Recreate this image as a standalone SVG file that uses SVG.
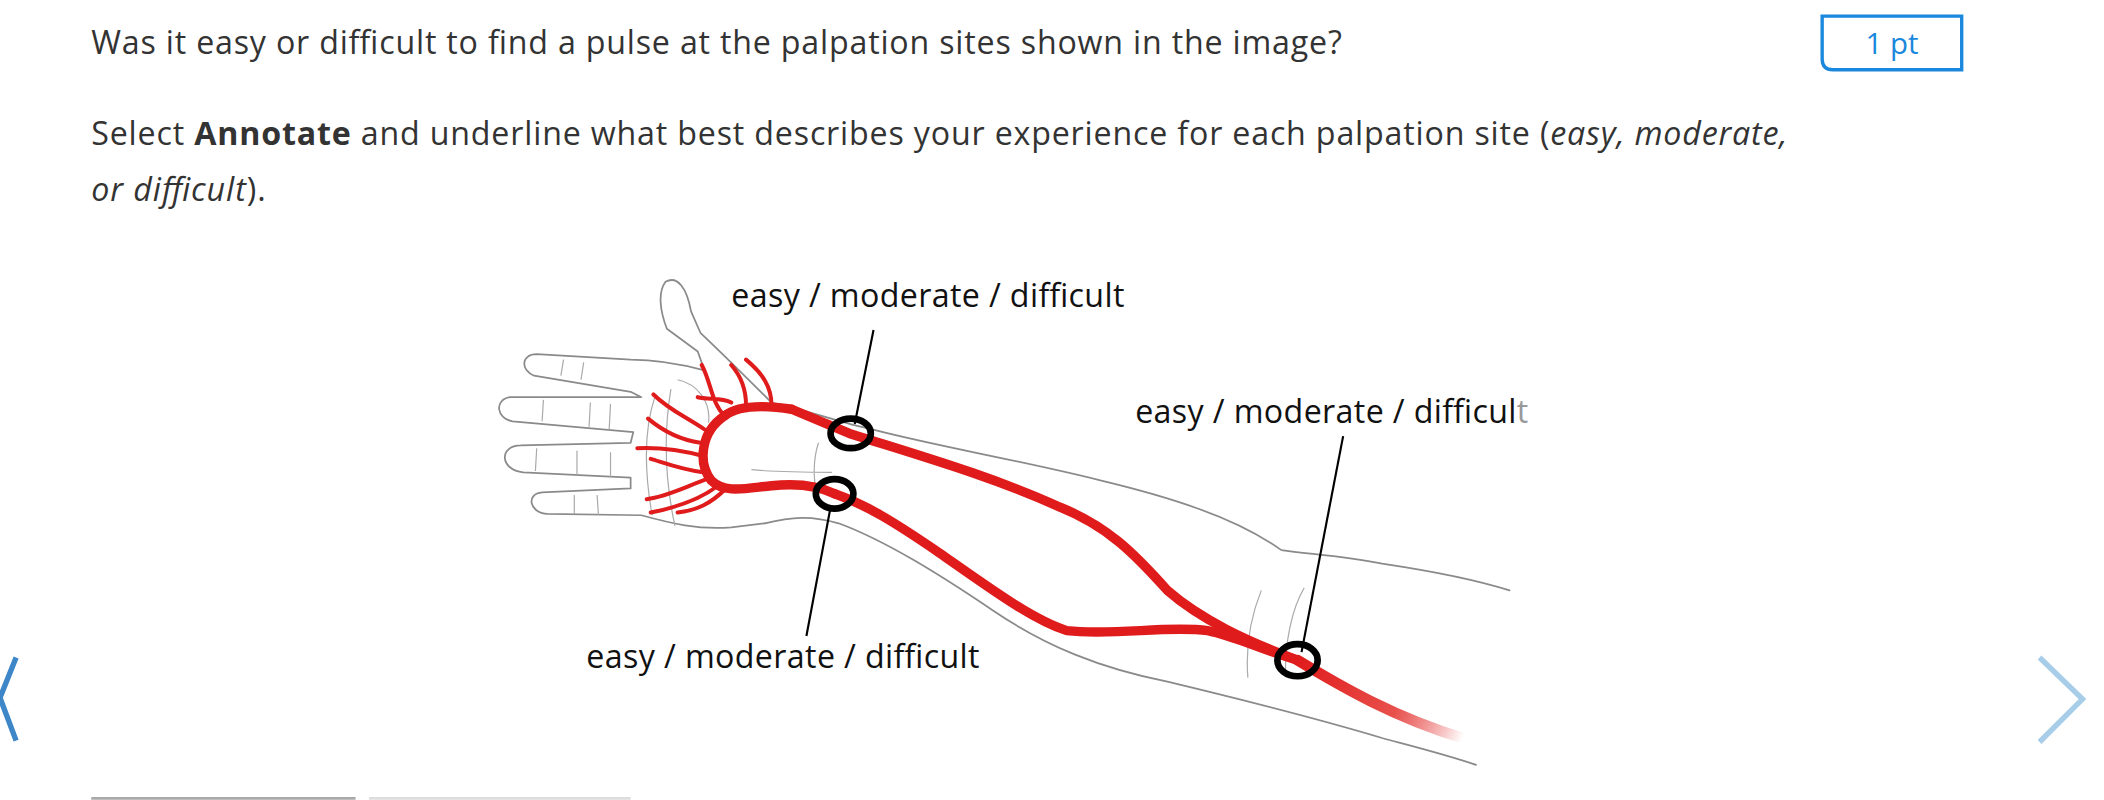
<svg xmlns="http://www.w3.org/2000/svg" width="2104" height="800" viewBox="0 0 2104 800">
<style>
.t{font-family:"Open Sans","Liberation Sans",sans-serif;fill:#333;font-size:24px}
.lbl{font-family:"Open Sans","Liberation Sans",sans-serif;fill:#111;font-size:24px}
.skin{fill:none;stroke:#8a8a8a;stroke-width:1.3;stroke-linejoin:round;stroke-linecap:round}
.crease{fill:none;stroke:#aaa;stroke-width:0.9}
.art{fill:none;stroke:#e01b1b;stroke-linecap:round;stroke-linejoin:round}
.ring{fill:none;stroke:#000;stroke-width:5}
.lead{stroke:#000;stroke-width:1.6}
</style>
<defs>
<linearGradient id="fade" x1="967" y1="492" x2="1090" y2="550" gradientUnits="userSpaceOnUse">
<stop offset="0" stop-color="#e01b1b"/><stop offset="0.6" stop-color="#e8504c"/><stop offset="1" stop-color="#e01b1b" stop-opacity="0"/>
</linearGradient>
</defs>
<rect width="2104" height="800" fill="#fff"/>
<g transform="scale(1.3418)">
<g id="header">
<text class="t" x="68" y="40" textLength="932" lengthAdjust="spacing">Was it easy or difficult to find a pulse at the palpation sites shown in the image?</text>
<text class="t" x="68" y="108" textLength="1264" lengthAdjust="spacing">Select <tspan font-weight="bold">Annotate</tspan> and underline what best describes your experience for each palpation site (<tspan font-style="italic">easy, moderate,</tspan></text>
<text class="t" x="68" y="150" textLength="130" lengthAdjust="spacing"><tspan font-style="italic">or difficult</tspan>).</text>
</g>
<g id="points">
<path d="M1358,12 H1462 V52 H1366 Q1358,52 1358,44 Z" fill="#fff" stroke="#1a88dc" stroke-width="2.5"/>
<text x="1410" y="40" text-anchor="middle" font-family="Open Sans, Liberation Sans, sans-serif" font-size="22" fill="#1a88dc">1 pt</text>
</g>
<g id="arm">
<path class="skin" d="M575,300 C560,285 540,265 522,248 L515,232 C512,215 505,205 496,210 C490,218 492,232 497,245 L520,262 L525,276 C510,272 488,268 470,268 L400,264 C388,264 388,276 398,280 L470,292 L478,296 C450,296 420,296 380,296 C368,298 370,312 382,314 L472,322 L470,330 L388,332 C372,332 372,350 390,352 L470,356 L470,364 L404,367 C392,368 394,382 408,383 L478,384 C500,390 520,395 545,393 L570,390"/>
<path class="skin" d="M575,300 C600,305 625,315 650,320 C700,333 760,343 820,358 C870,370 920,385 955,410 C975,413 1000,414 1030,420 C1070,426 1100,432 1125,440"/>
<path class="skin" d="M570,390 C590,385 605,384 625,390 C660,403 700,428 740,455 C780,482 820,498 870,508 C920,520 980,535 1030,550 C1060,558 1080,563 1100,570"/>
<path class="crease" d="M488,296 C480,320 480,350 486,384 M500,290 C495,320 495,355 503,392 M420,268 L418,280 M435,270 L433,283 M405,298 L404,314 M440,300 L439,318 M455,301 L454,320 M400,334 L399,351 M430,336 L430,354 M455,337 L455,356 M428,369 L428,383 M445,369 L446,384 M560,350 C580,352 600,352 620,352 M610,330 C605,345 606,365 612,378 M940,440 C932,460 928,480 930,505 M972,438 C962,455 958,480 958,500 M505,283 C520,286 530,300 528,315"/>
</g>
<g id="arteries">
<path class="art" stroke-width="7" d="M590,305 C570,302 550,302 540,310 C522,322 520,345 530,358 C540,368 555,364 575,362 C595,360 610,362 622,368"/>
<path class="art" stroke-width="7" d="M590,305 L633,323 C680,338 740,355 790,378 C825,392 845,412 870,440 C895,462 930,478 967,492"/>
<path class="art" stroke-width="7" d="M622,368 C645,376 665,388 700,412 C740,440 770,462 795,470 C830,474 870,466 900,470 C920,474 940,484 967,492"/>
<path stroke="url(#fade)" stroke-width="8" fill="none" stroke-linecap="round" d="M967,492 C1000,512 1040,535 1090,550"/>
<path class="art" stroke-width="3" d="M540,310 C530,300 530,285 523,272 M556,302 C556,290 552,280 545,272 M575,302 C575,288 568,278 556,268 M545,300 C538,296 528,298 520,296"/>
<path class="art" stroke-width="3" d="M525,320 C510,310 498,305 487,294 M522,330 C508,328 495,322 483,312 M525,340 C510,336 495,333 475,334 M524,352 C508,350 495,345 485,342 M530,356 C512,362 498,370 482,372 M540,365 C530,375 520,380 505,382 M535,362 C522,372 505,378 485,382"/>
</g>
<g id="connectors">
<line class="lead" x1="651" y1="246" x2="637" y2="316"/>
<line class="lead" x1="1001" y1="325" x2="970" y2="486"/>
<line class="lead" x1="619" y1="378" x2="601" y2="474"/>
</g>
<g id="site1"><ellipse class="ring" cx="634" cy="323" rx="15" ry="11"/><text class="lbl" x="545" y="229" textLength="293" lengthAdjust="spacing">easy / moderate / difficult</text></g>
<g id="site2"><ellipse class="ring" cx="967" cy="492" rx="15" ry="12"/><text class="lbl" x="846" y="315" textLength="293" lengthAdjust="spacing">easy / moderate / difficul<tspan fill="#999">t</tspan></text></g>
<g id="site3"><ellipse class="ring" cx="622" cy="368" rx="14" ry="11"/><text class="lbl" x="437" y="498" textLength="293" lengthAdjust="spacing">easy / moderate / difficult</text></g>
<g id="nav">
<path d="M12,490 L0,520 L12,552" fill="none" stroke="#3d86c8" stroke-width="4"/>
<path d="M1520,490 L1552,521 L1520,553" fill="none" stroke="#a8cde8" stroke-width="4"/>
<line x1="68" y1="595" x2="265" y2="595" stroke="#aaa" stroke-width="2"/>
<line x1="275" y1="595" x2="470" y2="595" stroke="#ddd" stroke-width="2"/>
</g>
</g>
</svg>
